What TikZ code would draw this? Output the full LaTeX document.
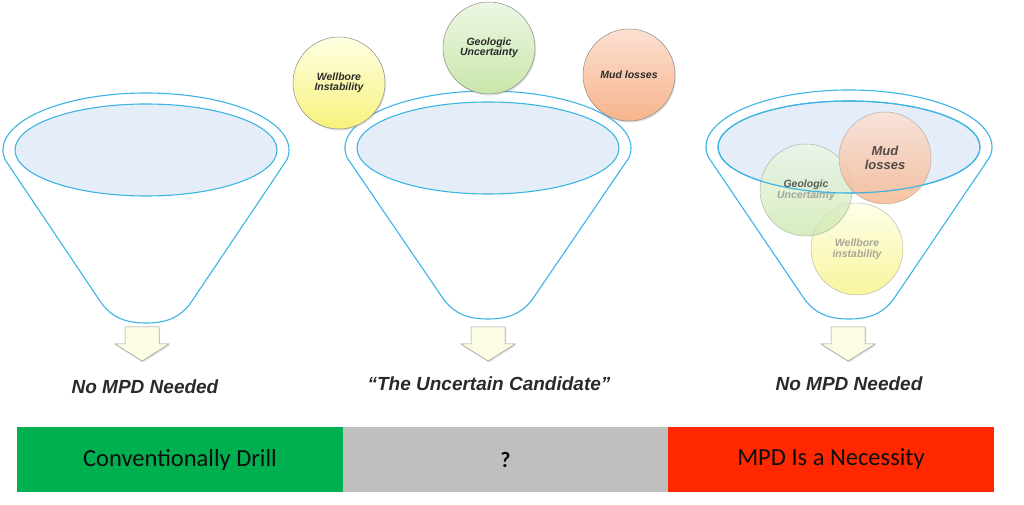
\documentclass[tikz,border=0pt]{standalone}
\usepackage{fontspec}
\setmainfont{Liberation Sans}
\newfontfamily\calib{Carlito}
\usetikzlibrary{shadows}
\definecolor{funnelblue}{HTML}{3CB4E4}
\definecolor{innerfill}{HTML}{E5EEF8}
\definecolor{arrowfill}{HTML}{FDFDE6}
\definecolor{labeltext}{HTML}{2A2A2A}
\definecolor{bargreen}{HTML}{00B050}
\definecolor{bargray}{HTML}{BFBFBF}
\definecolor{barred}{HTML}{FF2800}
\definecolor{yelTop}{HTML}{FFFFE2}
\definecolor{yelBot}{HTML}{F6F27C}
\definecolor{grnTop}{HTML}{EDF7E4}
\definecolor{grnBot}{HTML}{C9E6AA}
\definecolor{orgTop}{HTML}{FCE0D2}
\definecolor{orgBot}{HTML}{F7B48C}
\definecolor{fadedtext}{HTML}{8A8A8A}
\tikzset{
  funnelline/.style={draw=funnelblue, line width=1.1pt, fill=white},
  innerell/.style={draw=funnelblue, line width=1.1pt, fill=innerfill},
  blockarrow/.style={draw=black!40, line width=0.5pt, fill=arrowfill,
    drop shadow={opacity=0.25, shadow xshift=1pt, shadow yshift=-1.5pt}},
  bubble/.style={circle, minimum size=92pt, inner sep=0pt, align=center,
    draw=black!45, line width=0.5pt,
    font=\fontsize{10.5}{10.5}\selectfont\bfseries\itshape, text=labeltext},
  shadowed/.style={drop shadow={opacity=0.25, shadow xshift=1pt, shadow yshift=-1.5pt}},
  funnellabel/.style={font=\fontsize{19}{22}\selectfont\bfseries\itshape, text=labeltext},
  barbox/.style={rectangle, minimum width=326pt, minimum height=65pt, inner sep=0pt,
    font=\calib\fontsize{24.5}{28}\selectfont, text=black!95},
}
% #1 centre x, #2 ellipse centre y (image px), #3 bottom y (image px)
\newcommand\myfunnel[3]{%
  \path[funnelline] ({#1+143*cos(190)},{505-#2+57*sin(190)})
    arc[start angle=190, end angle=-10, x radius=143pt, y radius=57pt]
    -- (#1+46,505-#3+22)
    .. controls (#1+34,505-#3+4) and (#1+18,505-#3) .. (#1,505-#3)
    .. controls (#1-18,505-#3) and (#1-34,505-#3+4) .. (#1-46,505-#3+22)
    -- cycle;
  \draw[innerell] (#1,505-#2) ellipse[x radius=131pt, y radius=46pt];
}
\newcommand\myarrow[1]{%
  \path[blockarrow] (#1-17,505-327) -- (#1+17,505-327) -- (#1+17,505-344)
    -- (#1+27,505-344) -- (#1,505-361) -- (#1-27,505-344) -- (#1-17,505-344) -- cycle;
}
\begin{document}
\begin{tikzpicture}[x=1pt, y=1pt]
\useasboundingbox (0,0) rectangle (1024,505);

% funnels
\myfunnel{146}{150}{323}
\myfunnel{488}{148}{319}
\myfunnel{849}{147}{319}

% bubbles, middle funnel
\node[bubble, shadowed, top color=yelTop, bottom color=yelBot] (wb1) at (339,505-83) {Wellbore\\Instability};
\node[bubble, shadowed, top color=grnTop, bottom color=grnBot] (gu1) at (489,505-48) {Geologic\\Uncertainty};
\node[bubble, shadowed, top color=orgTop, bottom color=orgBot] (ml1) at (629,505-75) {Mud losses};

% bubbles inside right funnel (faded)
\node[bubble, top color=yelTop, bottom color=yelBot, fill opacity=0.75, draw opacity=0.6,
  text=fadedtext, font=\fontsize{10.5}{11}\selectfont\bfseries\itshape] (wb3) at (857,505-249) {Wellbore\\instability};
\node[bubble, top color=grnTop, bottom color=grnBot, fill opacity=0.75, draw opacity=0.6,
  font=\fontsize{10.5}{11}\selectfont\bfseries\itshape] (gu3) at (806,505-190) {Geologic\\\textcolor{fadedtext}{Uncertainty}};
\node[bubble, top color=orgTop, bottom color=orgBot, fill opacity=0.8, draw opacity=0.6,
  font=\fontsize{13}{14}\selectfont\bfseries\itshape] (ml3) at (885,505-158) {Mud\\losses};
\draw[funnelblue, line width=1.1pt] (849,505-147) ellipse[x radius=131pt, y radius=46pt];

% arrows
\myarrow{142}
\myarrow{488}
\myarrow{848}

% labels
\node[funnellabel] (l1) at (145,505-387) {No MPD Needed};
\node[funnellabel] (l2) at (489,505-384) {“The Uncertain Candidate”};
\node[funnellabel] (l3) at (849,505-384) {No MPD Needed};

% bar
\node[barbox, fill=bargreen] (b1) at (180,505-459.5) {Conventionally Drill};
\node[barbox, fill=bargray, font=\calib\bfseries\fontsize{22}{26}\selectfont] (b2) at (505.5,505-459.5) {?};
\node[barbox, fill=barred] (b3) at (831,505-459.5) {MPD Is a Necessity};
\end{tikzpicture}
\end{document}
